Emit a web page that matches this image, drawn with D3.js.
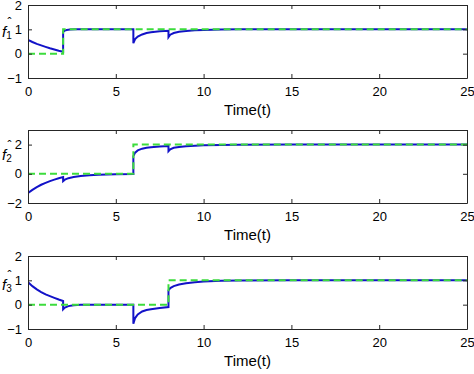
<!DOCTYPE html>
<html lang="en">
<head>
<meta charset="UTF-8">
<title>f hat estimates</title>
<script src="https://d3js.org/d3.v7.min.js"></script>
<style>
  body { margin: 0; background: #fff; }
  text { font-family: "Liberation Sans", Arial, sans-serif; }
</style>
</head>
<body>
<svg id="chart" width="474" height="374"></svg>
<script>
// reference signals (green dashed): step times and levels
var ref1T = [0, 2, 2, 25];
var ref1V = [0, 0, 1, 1];
var ref2T = [0, 6, 6, 25];
var ref2V = [0, 0, 2, 2];
var ref3T = [0, 8, 8, 25];
var ref3V = [0, 0, 1, 1];

// estimates (blue solid)
var est1T = [0, 0.25, 0.5, 0.75, 1, 1.25, 1.5, 1.75, 2, 2, 2.1, 2.2, 2.4, 2.7, 3, 4, 5, 6,
             6, 6.1, 6.25, 6.5, 6.75, 7, 7.5, 8, 8, 8.1, 8.3, 8.6, 9, 9.5, 10, 11, 12, 15, 25];
var est1V = [0.57, 0.48, 0.4, 0.34, 0.28, 0.22, 0.17, 0.12, 0.08, 0.89, 0.95, 0.97, 0.99, 1, 1, 1, 1, 1,
             0.43, 0.6, 0.7, 0.79, 0.85, 0.88, 0.92, 0.94, 0.68, 0.78, 0.85, 0.9, 0.93, 0.96, 0.97, 0.99, 1, 1, 1];
var est2T = [0, 0, 0.25, 0.5, 0.75, 1, 1.25, 1.5, 1.75, 2, 2, 2.1, 2.3, 2.6, 3, 3.5, 4, 5, 6,
             6, 6.1, 6.25, 6.5, 6.75, 7, 7.5, 8, 8, 8.1, 8.3, 8.6, 9, 9.5, 10, 11, 12, 15, 25];
var est2V = [0, -1.32, -1.1, -0.91, -0.75, -0.62, -0.5, -0.4, -0.31, -0.23, -0.5, -0.4, -0.3, -0.22, -0.15, -0.1, -0.07, -0.03, -0.02,
             1.21, 1.45, 1.6, 1.72, 1.78, 1.82, 1.87, 1.9, 1.55, 1.68, 1.78, 1.84, 1.88, 1.92, 1.95, 1.97, 1.99, 2, 2];
var est3T = [0, 0, 0.25, 0.5, 0.75, 1, 1.25, 1.5, 1.75, 2, 2, 2.1, 2.3, 2.6, 3, 4, 5, 6,
             6, 6.1, 6.25, 6.5, 6.75, 7, 7.5, 8, 8, 8.1, 8.3, 8.6, 9, 9.5, 10, 11, 12, 15, 25];
var est3V = [0, 0.93, 0.76, 0.63, 0.52, 0.42, 0.35, 0.28, 0.21, 0.15, -0.19, -0.12, -0.06, -0.02, 0, 0, 0, 0,
             -0.78, -0.55, -0.4, -0.28, -0.22, -0.19, -0.14, -0.1, 0.59, 0.68, 0.76, 0.83, 0.88, 0.92, 0.95, 0.98, 0.99, 1, 1];

var xTicks = [0, 5, 10, 15, 20, 25];
var panels = [
  { sub: "1", yDomain: [-1, 2], yTicks: [-1, 0, 1, 2], refT: ref1T, refV: ref1V, estT: est1T, estV: est1V },
  { sub: "2", yDomain: [-2, 3], yTicks: [-2, 0, 2],    refT: ref2T, refV: ref2V, estT: est2T, estV: est2V },
  { sub: "3", yDomain: [-1, 2], yTicks: [-1, 0, 1, 2], refT: ref3T, refV: ref3V, estT: est3T, estV: est3V }
];

var tops = [5, 130, 256];
var labelOffsets = [32, 30, 34];
var ph = 73;
var left = 28, right = 467;

var svg = d3.select("#chart");
var x = d3.scaleLinear().domain([0, 25]).range([left, right]);

panels.forEach(function(p, i) {
  var top = tops[i], bottom = top + ph;
  var y = d3.scaleLinear().domain(p.yDomain).range([bottom, top]);
  var g = svg.append("g");

  g.append("clipPath").attr("id", "clip" + i)
    .append("rect").attr("x", left).attr("y", top).attr("width", right - left).attr("height", ph);

  var line = d3.line().x(function(d) { return x(d[0]); }).y(function(d) { return y(d[1]); });
  var est = p.estT.map(function(t, k) { return [t, p.estV[k]]; });
  var ref = p.refT.map(function(t, k) { return [t, p.refV[k]]; });

  g.append("path").attr("d", line(est)).attr("clip-path", "url(#clip" + i + ")")
    .attr("fill", "none").attr("stroke", "#1212c8").attr("stroke-width", 2);
  g.append("path").attr("d", line(ref)).attr("clip-path", "url(#clip" + i + ")")
    .attr("fill", "none").attr("stroke", "#3ddc3d").attr("stroke-width", 2)
    .attr("stroke-dasharray", "7,4");

  // axes, ticks inward like matlab
  var fmt = d3.format("d");
  var axB = g.append("g").attr("transform", "translate(0," + bottom + ")")
    .call(d3.axisBottom(x).tickValues(xTicks).tickSize(-4).tickPadding(9).tickSizeOuter(0).tickFormat(fmt));
  var axT = g.append("g").attr("transform", "translate(0," + top + ")")
    .call(d3.axisTop(x).tickValues(xTicks).tickSize(-4).tickFormat("").tickSizeOuter(0));
  var axL = g.append("g").attr("transform", "translate(" + left + ",0)")
    .call(d3.axisLeft(y).tickValues(p.yTicks).tickSize(-4).tickPadding(6).tickSizeOuter(0).tickFormat(fmt));
  var axR = g.append("g").attr("transform", "translate(" + right + ",0)")
    .call(d3.axisRight(y).tickValues(p.yTicks).tickSize(-4).tickFormat("").tickSizeOuter(0));
  [axB, axT, axL, axR].forEach(function(a) {
    a.select(".domain").attr("stroke", "#262626").attr("stroke-width", 1);
    a.selectAll(".tick line").attr("stroke", "#262626");
    a.selectAll("text").attr("font-size", 13).attr("fill", "#000")
      .attr("font-family", "Liberation Sans, Arial, sans-serif");
  });

  // x label
  g.append("text").attr("x", (left + right) / 2).attr("y", bottom + 37)
    .attr("text-anchor", "middle").attr("font-size", 15).text("Time(t)");

  // y label: f hat with subscript
  var ly = top + labelOffsets[i];
  g.append("text").attr("x", 7.5).attr("y", ly - 10)
    .attr("font-family", "DejaVu Serif, serif").attr("font-size", 12).text("\u02C6");
  var lab = g.append("text").attr("x", 2).attr("y", ly)
    .attr("font-family", "DejaVu Serif, serif").attr("font-size", 15);
  lab.append("tspan").attr("font-style", "italic").text("f");
  lab.append("tspan").attr("font-size", 10).attr("dy", 2).text(p.sub);
});
</script>
</body>
</html>
